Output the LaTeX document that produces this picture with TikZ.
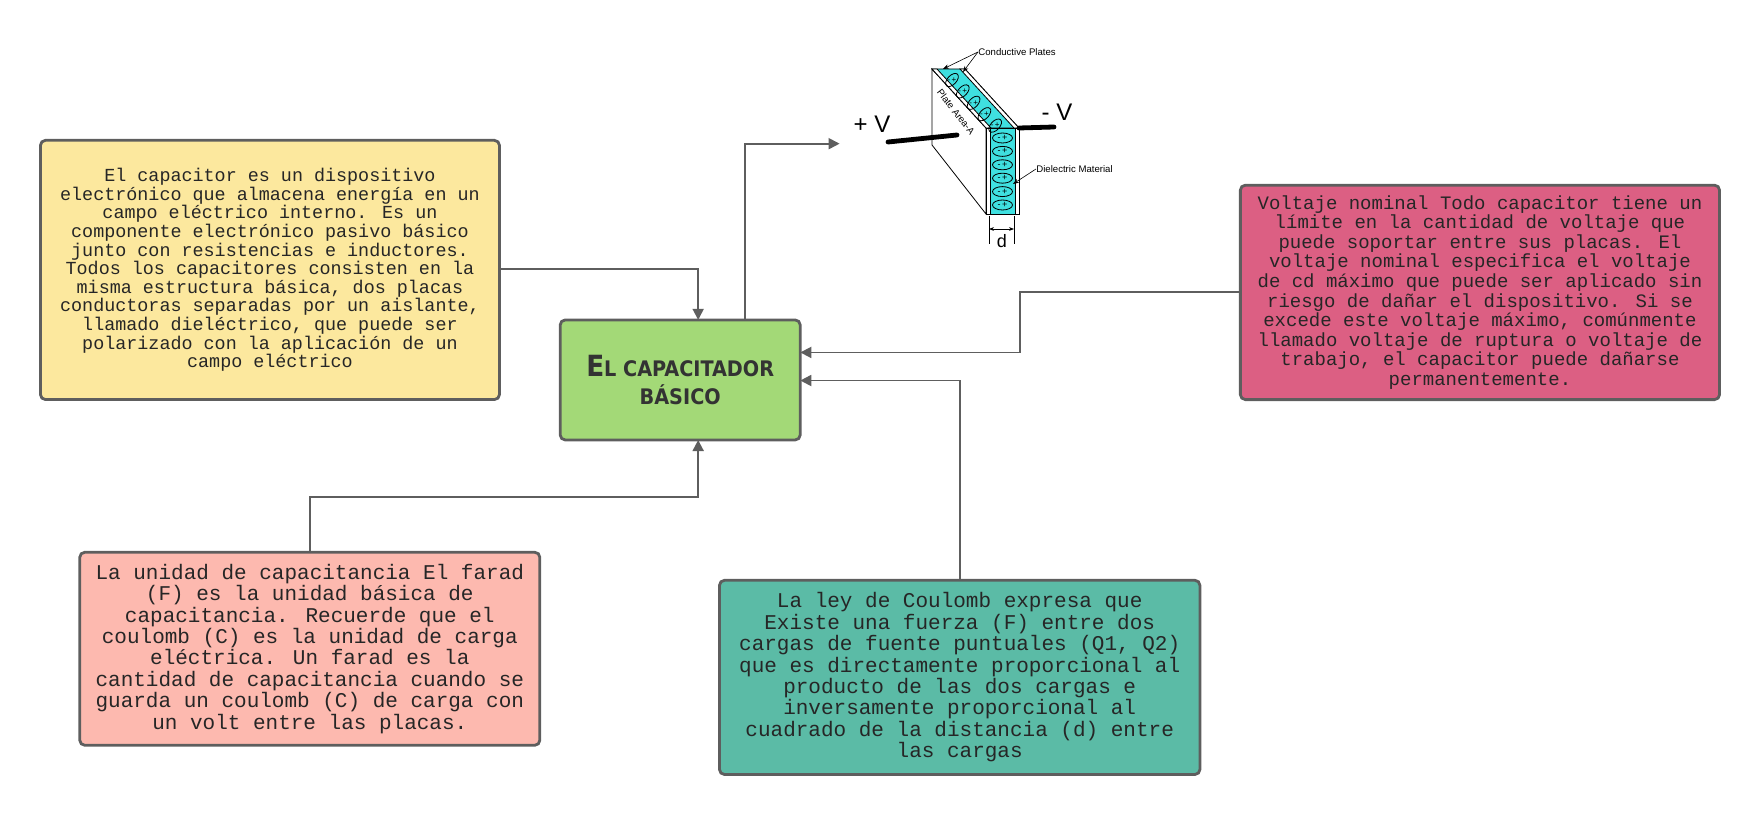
\documentclass[tikz,border=0pt]{standalone}
\usepackage{fontspec}
\setmainfont{Liberation Serif}
\newfontfamily\monof{Liberation Mono}
\newfontfamily\sansf{Liberation Sans}
\newfontfamily\titlef{DejaVu Sans Condensed}
\usetikzlibrary{arrows.meta}
\definecolor{cyel}{HTML}{FCE89E}
\definecolor{cgreen}{HTML}{A3D977}
\definecolor{cpink}{HTML}{DC5F83}
\definecolor{csalmon}{HTML}{FDB9AF}
\definecolor{cteal}{HTML}{5BBBA6}
\definecolor{cline}{HTML}{5E5E5E}
\definecolor{ccyan}{HTML}{3FE0E0}
\begin{document}
\begin{tikzpicture}[x=0.5612pt,y=-0.5612pt,
  box/.style={draw=cline,line width=1.4pt,rounded corners=2.5pt,inner sep=0pt,align=center,font=\monof,text=black!85},
  conn/.style={draw=cline,line width=0.9pt,-{Triangle[length=5.5pt,width=5.5pt]}}]
\useasboundingbox (0,0) rectangle (1568,726);
\node[box,fill=cyel,minimum width=229.5pt,minimum height=129.6pt,font=\monof\fontsize{9.2}{9.3}\selectfont] (y) at (240.5,240.5) {El capacitor es un dispositivo\\electrónico que almacena energía en un\\campo eléctrico interno. Es un\\componente electrónico pasivo básico\\junto con resistencias e inductores.\\Todos los capacitores consisten en la\\misma estructura básica, dos placas\\conductoras separadas por un aislante,\\llamado dieléctrico, que puede ser\\polarizado con la aplicación de un\\campo eléctrico};
\node[box,fill=cgreen,minimum width=120pt,minimum height=60pt,font=\titlef\bfseries,text=black!80] (g) at (606,338.5) {{\fontsize{14.6}{14.6}\selectfont E}{\fontsize{10.7}{12}\selectfont L CAPACITADOR}\\[2pt]{\fontsize{10.7}{12}\selectfont BÁSICO}};
\node[box,fill=cpink,minimum width=239.6pt,minimum height=107.2pt,font=\monof\fontsize{9.5}{9.8}\selectfont] (p) at (1318.5,260.5) {Voltaje nominal Todo capacitor tiene un\\límite en la cantidad de voltaje que\\puede soportar entre sus placas. El\\voltaje nominal especifica el voltaje\\de cd máximo que puede ser aplicado sin\\riesgo de dañar el dispositivo. Si se\\excede este voltaje máximo, comúnmente\\llamado voltaje de ruptura o voltaje de\\trabajo, el capacitor puede dañarse\\permanentemente.};
\node[box,fill=csalmon,minimum width=230pt,minimum height=96.5pt,font=\monof\fontsize{10.5}{10.7}\selectfont] (s) at (276,578) {La unidad de capacitancia El farad\\(F) es la unidad básica de\\capacitancia. Recuerde que el\\coulomb (C) es la unidad de carga\\eléctrica.  Un farad es la\\cantidad de capacitancia cuando se\\guarda un coulomb (C) de carga con\\un volt entre las placas.};
\node[box,fill=cteal,minimum width=240.2pt,minimum height=97.1pt,font=\monof\fontsize{10.5}{10.7}\selectfont] (t) at (855,603.5) {La ley de Coulomb expresa que\\Existe una fuerza (F) entre dos\\cargas de fuente puntuales (Q1, Q2)\\que es directamente proporcional al\\producto de las dos cargas e\\inversamente proporcional al\\cuadrado de la distancia (d) entre\\las cargas};
\coordinate (img) at (748,128);
% connectors
\draw[conn] (y.east |- 0,240) -| (622,285);
\draw[conn] (664,285) |- (img);
\draw[conn] (p.west |- 0,260) -| (909,314) -- (713,314);
\draw[conn] (t.north) |- (713,339);
\draw[conn] (s.north) |- (622,443) -- (622,392);
% capacitor picture (original pixel coordinates)
\begin{scope}[scale=0.8909,line width=0.4pt]
\draw[fill=white] (932,69) -- (986,128) -- (986,214) -- (932,145) -- cycle;
\draw[fill=ccyan] (932,69) -- (965,69) -- (1019,128) -- (986,128) -- cycle;
\draw[fill=white] (932,69) -- (937,69) -- (991,128) -- (986,128) -- cycle;
\draw[fill=white] (960,69) -- (965,69) -- (1019,128) -- (1014,128) -- cycle;
\draw[fill=ccyan] (986,128) rectangle (1019,214);
\draw[fill=white] (986,128) rectangle (990,214);
\draw[fill=white] (1015,128) rectangle (1019,214);
\foreach \i in {0,...,5} {
  \draw (1002.5,138+\i*13.4) ellipse (10 and 5);
  \node[font=\sansf\fontsize{4.5}{4.5}\selectfont,inner sep=0] at (1002.5,138+\i*13.4) {-\,+};
}
\foreach \i in {0,...,4} {
  \draw[rotate around={47:(952+\i*10.8,80+\i*11.4)}] (952+\i*10.8,80+\i*11.4) ellipse (8 and 4.5);
  \node[font=\sansf\fontsize{4}{4}\selectfont,inner sep=0] at (952+\i*10.8,80+\i*11.4) {-\,+};
}
\draw[line width=2.4pt,line cap=round] (888,142) -- (957,135);
\draw[line width=2.4pt,line cap=round] (1019,128) -- (1054,127);
\node[font=\sansf\fontsize{4.8}{5}\selectfont,rotate=-52] (pa) at (956,112) {Plate Area-A};
\node[font=\sansf\fontsize{12}{12}\selectfont] (pv) at (872,124) {+ V};
\node[font=\sansf\fontsize{12}{12}\selectfont] (mv) at (1057,112) {- V};
\node[font=\sansf\fontsize{4.8}{5}\selectfont,anchor=west,inner sep=0] (cp) at (978,52) {Conductive Plates};
\draw[-{Stealth[length=3pt]},line width=0.3pt] (cp.west) -- (943,69);
\draw[-{Stealth[length=3pt]},line width=0.3pt] (cp.west) -- (963,72);
\node[font=\sansf\fontsize{4.8}{5}\selectfont,anchor=west,inner sep=0] (dm) at (1036,169) {Dielectric Material};
\draw[-{Stealth[length=3pt]},line width=0.3pt] (dm.west) -- (1013,184);
\draw[line width=0.4pt] (989,216) -- (989,244) (1014,216) -- (1014,244);
\draw[{Stealth[length=2.5pt]}-{Stealth[length=2.5pt]},line width=0.3pt] (989,229) -- (1014,229);
\node[font=\sansf\fontsize{9}{9}\selectfont] (d) at (1002,241) {d};
\end{scope}
\end{tikzpicture}
\end{document}
